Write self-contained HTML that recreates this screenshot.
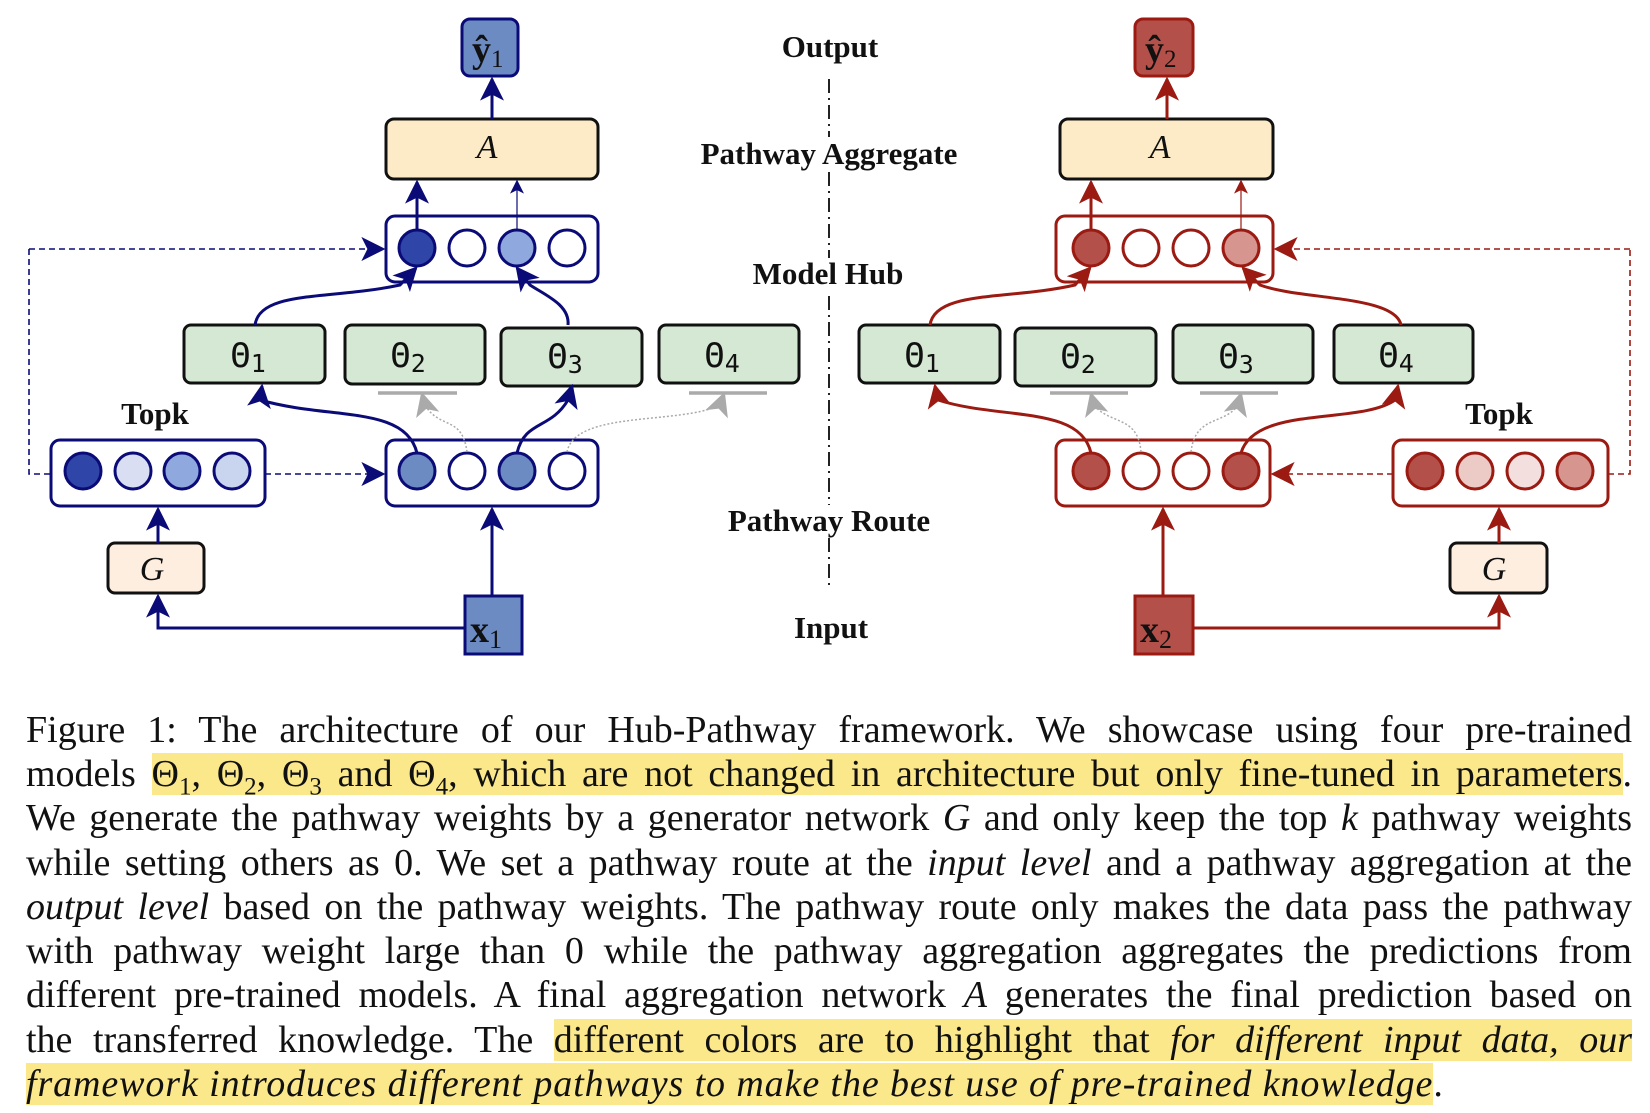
<!DOCTYPE html>
<html><head><meta charset="utf-8"><style>
html,body{margin:0;padding:0;background:#fff;}
body{width:1650px;height:1113px;position:relative;overflow:hidden;}
svg{position:absolute;left:0;top:0;}
.cap{position:absolute;left:26px;width:1606px;font-family:"Liberation Serif",serif;font-size:38px;color:#111;}
.ln{position:absolute;left:0;width:1606px;height:44px;line-height:44px;text-align:justify;text-align-last:justify;white-space:nowrap;word-spacing:-2px;}
.hl{background:#fbe88a;}
i{font-style:italic;}
sub{font-size:25px;line-height:0;}
</style></head><body>
<svg width="1650" height="680" viewBox="0 0 1650 680">
<defs>
<marker id="ab" viewBox="0 0 20 20" refX="18" refY="10" markerWidth="24" markerHeight="24" markerUnits="userSpaceOnUse" orient="auto"><path d="M0,0 L20,10 L0,20 L5,10 z" fill="#0b0b78"/></marker>
<marker id="abs" viewBox="0 0 20 20" refX="18" refY="10" markerWidth="14" markerHeight="14" markerUnits="userSpaceOnUse" orient="auto"><path d="M0,0 L20,10 L0,20 L5,10 z" fill="#0b0b78"/></marker>
<marker id="ar" viewBox="0 0 20 20" refX="18" refY="10" markerWidth="24" markerHeight="24" markerUnits="userSpaceOnUse" orient="auto"><path d="M0,0 L20,10 L0,20 L5,10 z" fill="#9b1a12"/></marker>
<marker id="ars" viewBox="0 0 20 20" refX="18" refY="10" markerWidth="14" markerHeight="14" markerUnits="userSpaceOnUse" orient="auto"><path d="M0,0 L20,10 L0,20 L5,10 z" fill="#9b1a12"/></marker>
<marker id="ag" viewBox="0 0 20 20" refX="18" refY="10" markerWidth="24" markerHeight="24" markerUnits="userSpaceOnUse" orient="auto"><path d="M0,0 L20,10 L0,20 L5,10 z" fill="#aaa"/></marker>
</defs>
<g font-family="Liberation Serif,serif" font-weight="bold" font-size="31" text-anchor="middle" fill="#111">
<text x="830" y="57">Output</text>
<text x="829" y="164">Pathway Aggregate</text>
<text x="828" y="284">Model Hub</text>
<text x="829" y="531">Pathway Route</text>
<text x="831" y="638">Input</text>
<text x="155" y="424">Topk</text>
<text x="1499" y="424">Topk</text>
</g>
<g stroke="#222" stroke-width="2" stroke-dasharray="14,5,2,5">
<line x1="829" y1="79" x2="829" y2="137"/>
<line x1="829" y1="172" x2="829" y2="258"/>
<line x1="829" y1="296" x2="829" y2="505"/>
<line x1="829" y1="538" x2="829" y2="590"/>
</g>

<g stroke="#0b0b78" stroke-width="3">
<rect x="462" y="19" width="56" height="57" rx="8" fill="#6b8bc2"/>
<rect x="386" y="216" width="212" height="66" rx="9" fill="#fff"/>
<rect x="386" y="440" width="212" height="66" rx="9" fill="#fff"/>
<rect x="51" y="440" width="214" height="66" rx="9" fill="#fff"/>
<rect x="465" y="596" width="57" height="58" fill="#6b8bc2"/>
<ellipse cx="417" cy="248" rx="18" ry="18" fill="#2f46a8"/>
<ellipse cx="467" cy="248" rx="18" ry="18" fill="#fff"/>
<ellipse cx="517" cy="248" rx="18" ry="18" fill="#8fa8dd"/>
<ellipse cx="567" cy="248" rx="18" ry="18" fill="#fff"/>
<ellipse cx="417" cy="471" rx="18" ry="18" fill="#6b8bc2"/>
<ellipse cx="467" cy="471" rx="18" ry="18" fill="#fff"/>
<ellipse cx="517" cy="471" rx="18" ry="18" fill="#6b8bc2"/>
<ellipse cx="567" cy="471" rx="18" ry="18" fill="#fff"/>
<ellipse cx="83" cy="471" rx="18" ry="18" fill="#2f46a8"/>
<ellipse cx="133" cy="471" rx="18" ry="18" fill="#d9def3"/>
<ellipse cx="182" cy="471" rx="18" ry="18" fill="#8fa8dd"/>
<ellipse cx="232" cy="471" rx="18" ry="18" fill="#c9d4ee"/>
</g>
<g stroke="#9b1a12" stroke-width="3">
<rect x="1135" y="19" width="58" height="57" rx="8" fill="#b4504a"/>
<rect x="1056" y="216" width="217" height="66" rx="9" fill="#fff"/>
<rect x="1056" y="440" width="214" height="66" rx="9" fill="#fff"/>
<rect x="1393" y="440" width="215" height="66" rx="9" fill="#fff"/>
<rect x="1135" y="596" width="58" height="58" fill="#b4504a"/>
<ellipse cx="1091" cy="248" rx="18" ry="18" fill="#b4504a"/>
<ellipse cx="1141" cy="248" rx="18" ry="18" fill="#fff"/>
<ellipse cx="1191" cy="248" rx="18" ry="18" fill="#fff"/>
<ellipse cx="1241" cy="248" rx="18" ry="18" fill="#d7958f"/>
<ellipse cx="1091" cy="471" rx="18" ry="18" fill="#b4504a"/>
<ellipse cx="1141" cy="471" rx="18" ry="18" fill="#fff"/>
<ellipse cx="1191" cy="471" rx="18" ry="18" fill="#fff"/>
<ellipse cx="1241" cy="471" rx="18" ry="18" fill="#b4504a"/>
<ellipse cx="1425" cy="471" rx="18" ry="18" fill="#b4504a"/>
<ellipse cx="1475" cy="471" rx="18" ry="18" fill="#eccac6"/>
<ellipse cx="1525" cy="471" rx="18" ry="18" fill="#f3e0de"/>
<ellipse cx="1575" cy="471" rx="18" ry="18" fill="#d7958f"/>
</g>
<g stroke="#111" stroke-width="3">
<rect x="386" y="119" width="212" height="60" rx="8" fill="#fdebc7"/>
<rect x="1060" y="119" width="213" height="60" rx="8" fill="#fdebc7"/>
<rect x="108" y="543" width="96" height="50" rx="7" fill="#fdeedf"/>
<rect x="1450" y="543" width="97" height="50" rx="7" fill="#fdeedf"/>
<g fill="#d5e8d4">
<rect x="184" y="325" width="141" height="58" rx="7"/>
<rect x="345" y="325" width="140" height="59" rx="7"/>
<rect x="501" y="328" width="141" height="58" rx="7"/>
<rect x="659" y="325" width="140" height="58" rx="7"/>
<rect x="859" y="325" width="141" height="58" rx="7"/>
<rect x="1015" y="328" width="141" height="58" rx="7"/>
<rect x="1173" y="325" width="140" height="58" rx="7"/>
<rect x="1334" y="325" width="139" height="58" rx="7"/>
</g></g>

<g stroke="#0b0b78" fill="none">
<path d="M29,249 L29,474 L51,474" stroke-width="1.6" stroke-dasharray="6,4"/>
<path d="M29,249 L383,249" stroke-width="1.6" stroke-dasharray="6,4" marker-end="url(#ab)"/>
<path d="M265,474 L383,474" stroke-width="1.6" stroke-dasharray="6,4" marker-end="url(#ab)"/>
<path d="M492,596 L492,509" stroke-width="3" marker-end="url(#ab)"/>
<path d="M465,628 L158,628 L158,596" stroke-width="3" marker-end="url(#ab)"/>
<path d="M158,543 L158,509" stroke-width="3" marker-end="url(#ab)"/>
<path d="M417,453 C405,405 330,420 260,400 L262,386" stroke-width="3" marker-end="url(#ab)"/>
<path d="M517,453 C525,420 550,430 568,400 L572,386" stroke-width="3" marker-end="url(#ab)"/>
<path d="M255,325 C260,290 330,300 400,285 L416,268" stroke-width="3" marker-end="url(#ab)"/>
<path d="M568,325 C570,305 545,295 530,285 L517,268" stroke-width="3" marker-end="url(#ab)"/>
<path d="M417,230 L417,182" stroke-width="3" marker-end="url(#ab)"/>
<path d="M517,230 L517,181" stroke-width="1.2" marker-end="url(#abs)"/>
<path d="M492,119 L492,79" stroke-width="3" marker-end="url(#ab)"/>
</g>
<g stroke="#aaa" fill="none">
<path d="M467,452 C462,415 440,430 425,405 L422,394" stroke-width="1.5" stroke-dasharray="2,2" marker-end="url(#ag)"/>
<path d="M567,452 C575,410 680,425 720,405 L724,394" stroke-width="1.5" stroke-dasharray="2,2" marker-end="url(#ag)"/>
<line x1="378" y1="393" x2="457" y2="393" stroke-width="3.5"/>
<line x1="689" y1="393" x2="767" y2="393" stroke-width="3.5"/>
</g>
<g stroke="#9b1a12" fill="none">
<path d="M1608,474 L1630,474 L1630,249" stroke-width="1.6" stroke-dasharray="6,4"/>
<path d="M1630,249 L1276,249" stroke-width="1.6" stroke-dasharray="6,4" marker-end="url(#ar)"/>
<path d="M1393,474 L1273,474" stroke-width="1.6" stroke-dasharray="6,4" marker-end="url(#ar)"/>
<path d="M1163,596 L1163,509" stroke-width="3" marker-end="url(#ar)"/>
<path d="M1193,628 L1499,628 L1499,596" stroke-width="3" marker-end="url(#ar)"/>
<path d="M1499,543 L1499,509" stroke-width="3" marker-end="url(#ar)"/>
<path d="M1091,453 C1080,405 1000,420 938,400 L935,386" stroke-width="3" marker-end="url(#ar)"/>
<path d="M1241,453 C1255,405 1360,425 1395,400 L1398,386" stroke-width="3" marker-end="url(#ar)"/>
<path d="M930,325 C935,290 1010,300 1075,285 L1090,268" stroke-width="3" marker-end="url(#ar)"/>
<path d="M1401,325 C1395,295 1300,300 1260,285 L1243,268" stroke-width="3" marker-end="url(#ar)"/>
<path d="M1091,230 L1091,182" stroke-width="3" marker-end="url(#ar)"/>
<path d="M1241,230 L1241,181" stroke-width="1.2" marker-end="url(#ars)"/>
<path d="M1167,119 L1167,79" stroke-width="3" marker-end="url(#ar)"/>
</g>
<g stroke="#aaa" fill="none">
<path d="M1141,452 C1138,415 1110,425 1094,405 L1091,394" stroke-width="1.5" stroke-dasharray="2,2" marker-end="url(#ag)"/>
<path d="M1191,452 C1195,415 1225,425 1238,405 L1241,394" stroke-width="1.5" stroke-dasharray="2,2" marker-end="url(#ag)"/>
<line x1="1050" y1="393" x2="1128" y2="393" stroke-width="3.5"/>
<line x1="1200" y1="393" x2="1278" y2="393" stroke-width="3.5"/>
</g>

<g font-family="DejaVu Sans Mono,monospace" font-size="34" fill="#111" text-anchor="middle">
<text x="248" y="367">Θ<tspan font-size="25" dy="5">1</tspan></text>
<text x="408" y="367">Θ<tspan font-size="25" dy="5">2</tspan></text>
<text x="565" y="368">Θ<tspan font-size="25" dy="5">3</tspan></text>
<text x="722" y="367">Θ<tspan font-size="25" dy="5">4</tspan></text>
<text x="922" y="367">Θ<tspan font-size="25" dy="5">1</tspan></text>
<text x="1078" y="368">Θ<tspan font-size="25" dy="5">2</tspan></text>
<text x="1236" y="368">Θ<tspan font-size="25" dy="5">3</tspan></text>
<text x="1396" y="367">Θ<tspan font-size="25" dy="5">4</tspan></text>
</g>
<g font-family="Liberation Serif,serif" font-style="italic" font-size="34" fill="#111" text-anchor="middle">
<text x="487" y="158">A</text>
<text x="1160" y="158">A</text>
<text x="152" y="580">G</text>
<text x="1494" y="580">G</text>
</g>
<g font-family="Liberation Serif,serif" font-weight="bold" font-size="38" fill="#111">
<text x="472" y="62">ŷ<tspan font-size="25" font-weight="normal" dy="5">1</tspan></text>
<text x="1145" y="62">ŷ<tspan font-size="25" font-weight="normal" dy="5">2</tspan></text>
<text x="470" y="642">x<tspan font-size="26" font-weight="normal" dy="6">1</tspan></text>
<text x="1140" y="642">x<tspan font-size="26" font-weight="normal" dy="6">2</tspan></text>
</g>
</svg>
<div class="cap" style="top:708px;">
<div class="ln" style="top:0">Figure 1: The architecture of our Hub-Pathway framework. We showcase using four pre-trained</div>
<div class="ln" style="top:44px">models <span class="hl">Θ<sub>1</sub>, Θ<sub>2</sub>, Θ<sub>3</sub> and Θ<sub>4</sub>, which are not changed in architecture but only fine-tuned in parameters</span>.</div>
<div class="ln" style="top:88px">We generate the pathway weights by a generator network <i>G</i> and only keep the top <i>k</i> pathway weights</div>
<div class="ln" style="top:133px">while setting others as 0. We set a pathway route at the <i>input level</i> and a pathway aggregation at the</div>
<div class="ln" style="top:177px"><i>output level</i> based on the pathway weights. The pathway route only makes the data pass the pathway</div>
<div class="ln" style="top:221px">with pathway weight large than 0 while the pathway aggregation aggregates the predictions from</div>
<div class="ln" style="top:265px">different pre-trained models. A final aggregation network <i>A</i> generates the final prediction based on</div>
<div class="ln" style="top:310px">the transferred knowledge. The <span class="hl">different colors are to highlight that <i>for different input data, our</i></span></div>
<div class="ln" style="top:354px;text-align-last:left;word-spacing:0;letter-spacing:0.9px;"><span class="hl"><i>framework introduces different pathways to make the best use of pre-trained knowledge</i></span>.</div>
</div>
</body></html>
